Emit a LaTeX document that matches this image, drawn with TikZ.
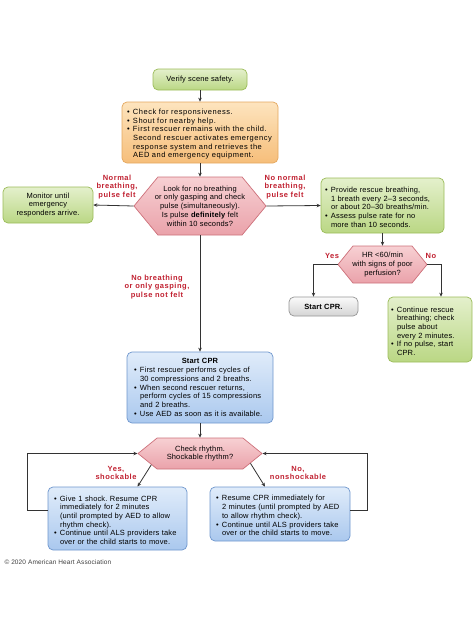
\documentclass[tikz,border=0pt]{standalone}
\usepackage{fontspec}
\setmainfont{Liberation Sans}[LetterSpace=2]
\usetikzlibrary{shapes.symbols,arrows.meta}
\frenchspacing

\definecolor{greentop}{RGB}{228,240,204}
\definecolor{greenbot}{RGB}{186,215,132}
\definecolor{greenline}{RGB}{155,187,89}
\definecolor{orangetop}{RGB}{253,228,190}
\definecolor{orangebot}{RGB}{246,190,122}
\definecolor{orangeline}{RGB}{228,168,95}
\definecolor{pinktop}{RGB}{247,208,211}
\definecolor{pinkbot}{RGB}{234,162,170}
\definecolor{pinkline}{RGB}{205,112,122}
\definecolor{bluetop}{RGB}{224,236,250}
\definecolor{bluebot}{RGB}{170,200,238}
\definecolor{blueline}{RGB}{110,150,205}
\definecolor{graytop}{RGB}{250,250,250}
\definecolor{graybot}{RGB}{212,212,212}
\definecolor{grayline}{RGB}{150,150,150}
\definecolor{labelred}{RGB}{192,32,48}

\newcommand{\basefont}{\fontsize{7.5}{8.7}\selectfont}
\newcommand{\widefont}{\fontsize{7.5}{8.7}\selectfont\addfontfeatures{LetterSpace=7}}
\newcommand{\bitem}[1]{\par\hangindent=6pt\hangafter=1\noindent\makebox[6pt][l]{\textbullet}#1\par}

\tikzset{
  box/.style={draw, rounded corners=5pt, line width=0.7pt, inner sep=0pt, align=center},
  greenbox/.style={box, draw=greenline, top color=greentop, bottom color=greenbot},
  orangebox/.style={box, draw=orangeline, top color=orangetop, bottom color=orangebot},
  bluebox/.style={box, draw=blueline, top color=bluetop, bottom color=bluebot},
  graybox/.style={box, draw=grayline, top color=graytop, bottom color=graybot},
  hexa/.style={signal, signal to=west and east, draw=pinkline, top color=pinktop,
    bottom color=pinkbot, line width=0.7pt, inner ysep=0pt, inner xsep=-7pt, align=center},
  lbl/.style={text=labelred, font=\widefont\bfseries, align=center},
  arr/.style={-{Stealth[length=4pt,width=3.5pt]}, line width=0.8pt, draw=black!80},
  line/.style={line width=0.8pt, draw=black!80}
}

\begin{document}
\begin{tikzpicture}[x=1pt, y=-1pt, font=\basefont]
        \useasboundingbox (0,0) rectangle (474,632);

        %Start
        \node [greenbox, minimum width=94, minimum height=21] (verify) at (200,79.5)
          {Verify scene safety.};
        \node [orangebox, font=\widefont, text width=146, inner xsep=5, minimum height=61, align=left] (check) at (200,132.5) {
          \bitem{Check for responsiveness.}
          \bitem{Shout for nearby help.}
          \bitem{First rescuer remains with the child.\newline
            Second rescuer activates emergency\newline
            response system and retrieves the\newline
            AED and emergency equipment.}
        };
        %Breathing and pulse
        \node [hexa, signal pointer angle=101, minimum width=132, minimum height=58] (look) at (200,206) {
          Look for no breathing\\or only gasping and check\\pulse (simultaneously).\\
          Is pulse \textbf{definitely} felt\\within 10 seconds?
        };
        \node [greenbox, minimum width=90, minimum height=36] (monitor) at (48,205)
          {Monitor until\\emergency\\responders arrive.};
        \node [lbl] (normal) at (117,187) {Normal\\breathing,\\pulse felt};
        \node [lbl] (nonormal) at (285,187) {No normal\\breathing,\\pulse felt};
        %Rescue breathing
        \node [greenbox, text width=115, inner xsep=4, minimum height=55, align=left] (rescue) at (382.5,205.5) {
          \bitem{Provide rescue breathing,\newline 1 breath every 2--3 seconds,\newline or about 20--30 breaths/min.}
          \bitem{Assess pulse rate for no\newline more than 10 seconds.}
        };
        \node [hexa, signal pointer angle=102, minimum width=89, minimum height=37] (hr) at (382.5,264.5)
          {HR <60/min\\with signs of poor\\perfusion?};
        \node [lbl] (yes) at (332,256) {Yes};
        \node [lbl] (no) at (431,256) {No};
        \node [graybox, minimum width=69, minimum height=19] (startcpr) at (323.5,306.5)
          {\textbf{Start CPR.}};
        \node [greenbox, text width=78, inner xsep=3, minimum height=65, align=left] (continue) at (430,329.5) {
          \bitem{Continue rescue\newline breathing; check\newline pulse about\newline every 2 minutes.}
          \bitem{If no pulse, start\newline CPR.}
        };
        %CPR
        \node [lbl] (nobreath) at (157,287) {No breathing\\or only gasping,\\pulse not felt};
        \node [bluebox, text width=132, inner xsep=7, minimum height=71, align=left] (cpr) at (200,387.5) {
          \centerline{\textbf{Start CPR}}
          \bitem{First rescuer performs cycles of\newline 30 compressions and 2 breaths.}
          \bitem{When second rescuer returns,\newline perform cycles of 15 compressions\newline and 2 breaths.}
          \bitem{Use AED as soon as it is available.}
        };
        %Rhythm
        \node [hexa, signal pointer angle=78, minimum width=124, minimum height=31] (rhythm) at (200,453.5)
          {Check rhythm.\\Shockable rhythm?};
        \node [lbl] (yesshock) at (116,473) {Yes,\\shockable};
        \node [lbl] (noshock) at (298,473) {No,\\nonshockable};
        \node [bluebox, text width=127, inner xsep=6, minimum height=63, align=left] (shock) at (117.5,518.5) {
          \bitem{Give 1 shock. Resume CPR\newline immediately for 2 minutes\newline (until prompted by AED to allow\newline rhythm check).}
          \bitem{Continue until ALS providers take\newline over or the child starts to move.}
        };
        \node [bluebox, text width=128, inner xsep=6, minimum height=54, align=left] (resume) at (280,514) {
          \bitem{Resume CPR immediately for\newline 2 minutes (until prompted by AED\newline to allow rhythm check).}
          \bitem{Continue until ALS providers take\newline over or the child starts to move.}
        };
        %Copyright
        \node [anchor=west, font=\fontsize{6.5}{8}\selectfont, text=black!75] (copy) at (1,562)
          {© 2020 American Heart Association};

        %Arrows
        \draw [arr] (verify.south) -- (check.north);
        \draw [arr] (check.south) -- (look.north);
        \draw [arr] (look.west) -- (monitor.east);
        \draw [arr] (look.east) -- (rescue.west);
        \draw [arr] (rescue.south) -- (hr.north);
        \draw [arr] (hr.west) -| ([xshift=-10pt]startcpr.north);
        \draw [arr] (hr.east) -| ([xshift=11pt]continue.north);
        \draw [arr] (look.south) -- (cpr.north);
        \draw [arr] (cpr.south) -- (rhythm.north);
        \draw [arr] (rhythm.193) -- ([xshift=20pt]shock.north);
        \draw [arr] (rhythm.-11) -- ([xshift=-15pt]resume.north);
        \draw [arr] ([yshift=8.5pt]shock.west) -- ++(-20,0) |- (rhythm.west);
        \draw [arr] ([yshift=4pt]resume.east) -- ++(17,0) |- (rhythm.east);
\end{tikzpicture}
\end{document}
